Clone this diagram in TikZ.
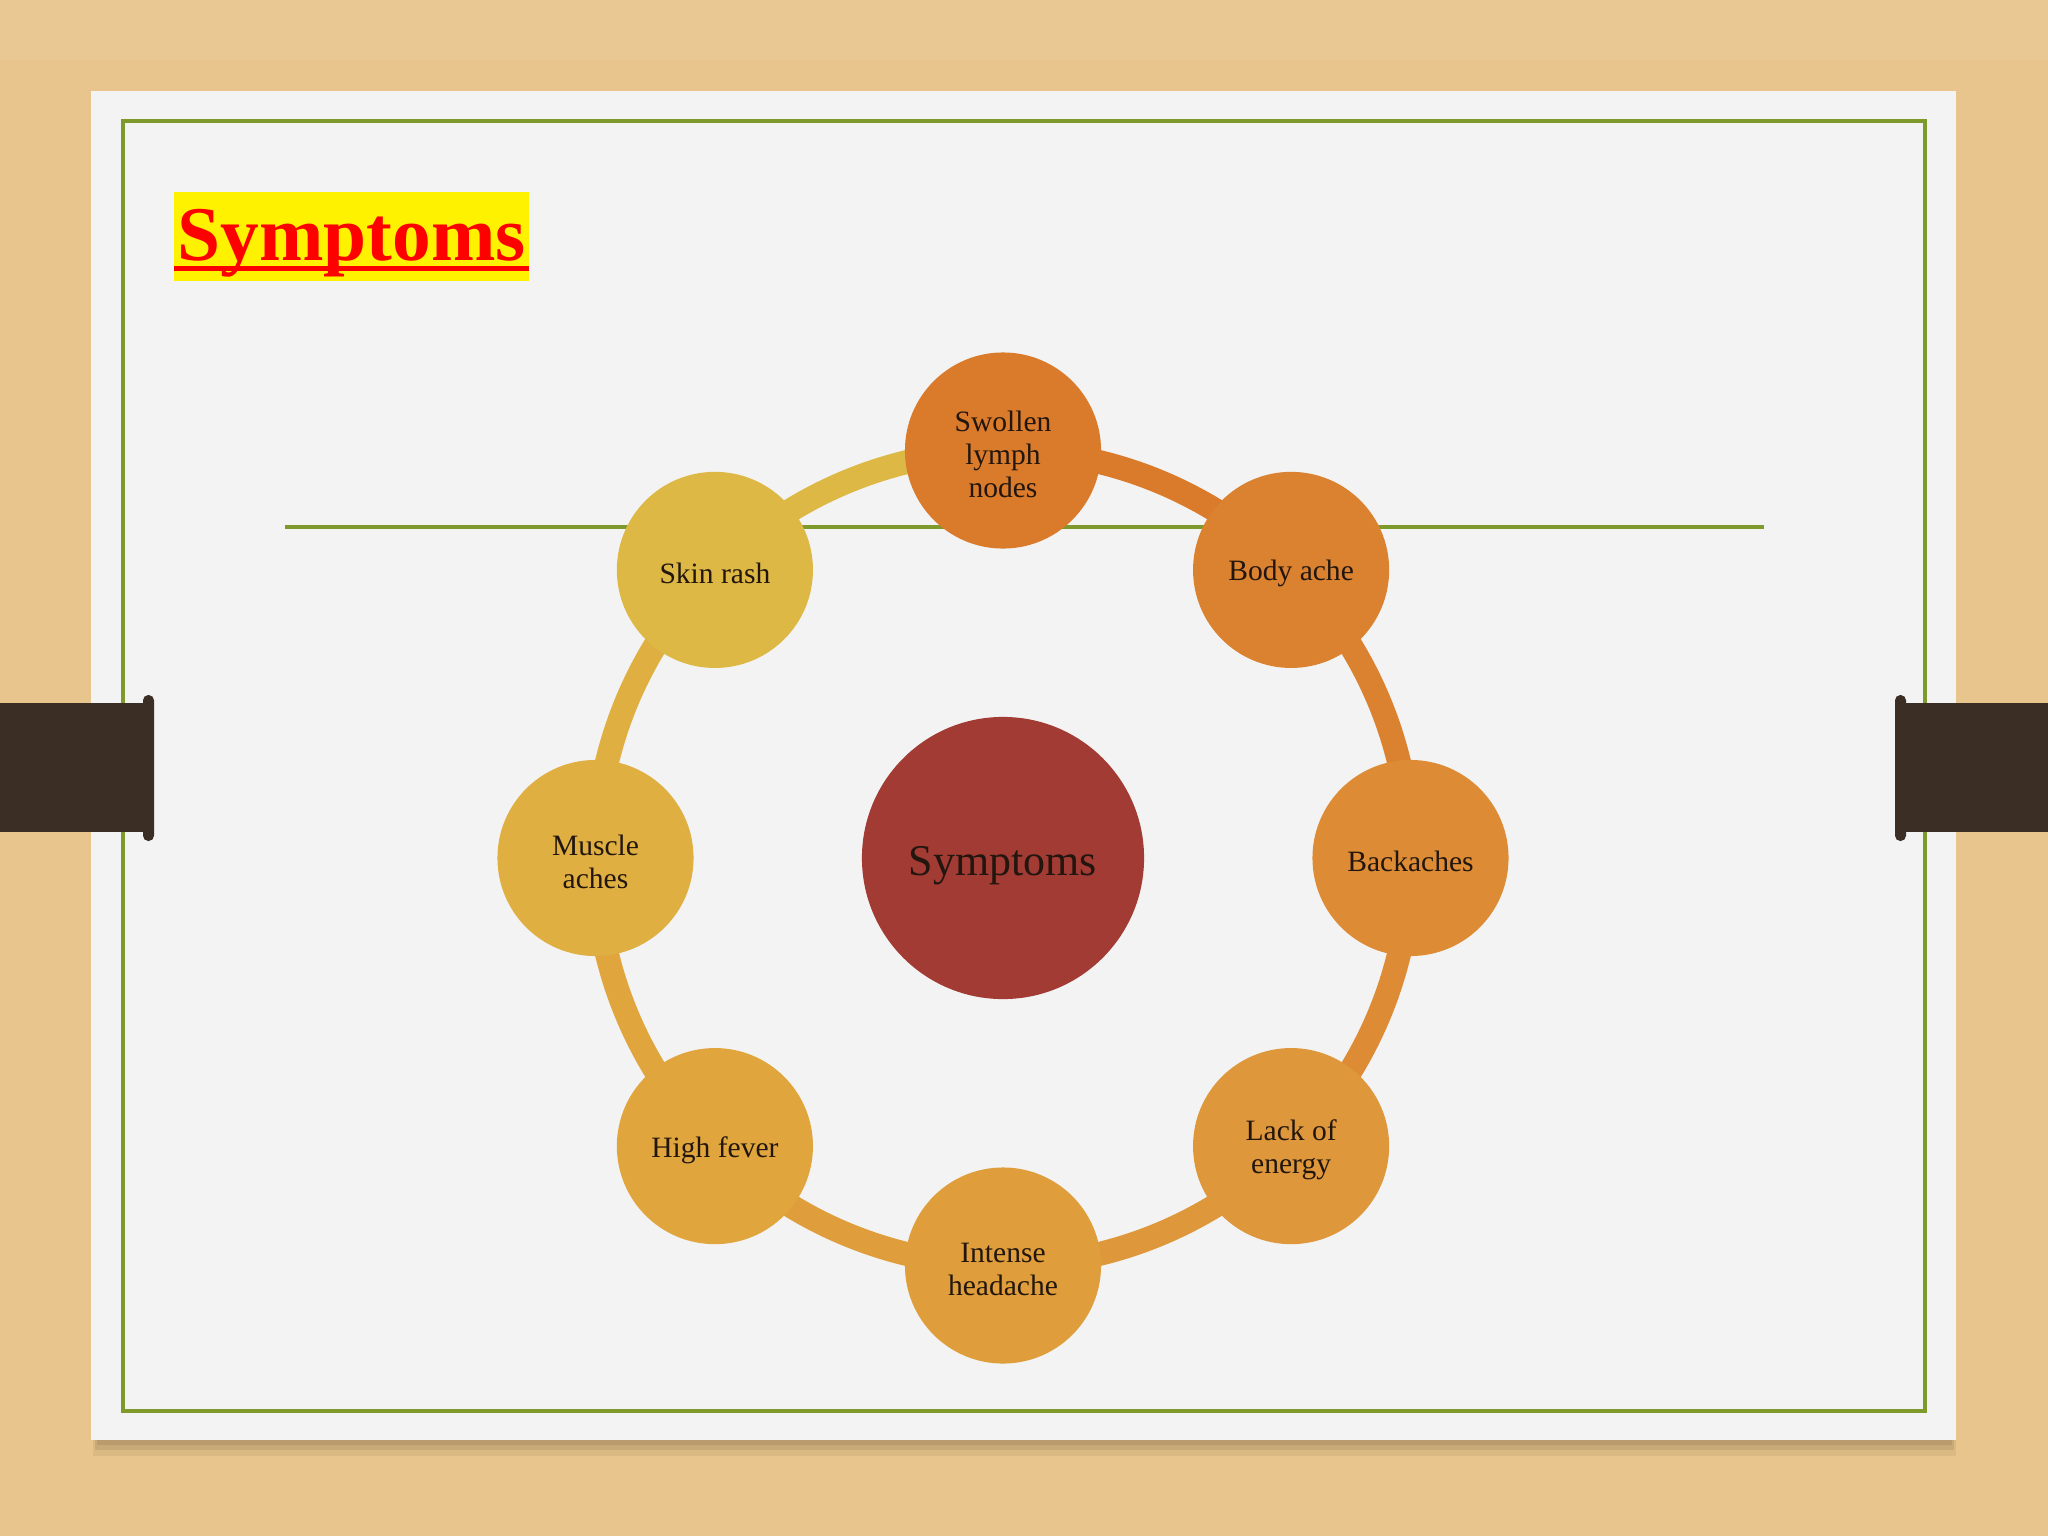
\documentclass[tikz,border=0pt]{standalone}
\usepackage{fontspec}
\setmainfont{Liberation Serif}
\definecolor{wood}{HTML}{E8C58C}
\definecolor{paper}{HTML}{F3F3F3}
\definecolor{frame}{HTML}{7E9A2A}
\definecolor{strap}{HTML}{3A2E25}
\definecolor{cA}{HTML}{DA7A2B}
\definecolor{cB}{HTML}{DB8230}
\definecolor{cC}{HTML}{DD8C35}
\definecolor{cD}{HTML}{DE973A}
\definecolor{cE}{HTML}{DF9E3B}
\definecolor{cF}{HTML}{E0A63D}
\definecolor{cG}{HTML}{DFAF41}
\definecolor{cH}{HTML}{DDB845}
\definecolor{core}{HTML}{A23B34}
\definecolor{ink}{HTML}{22160E}
\begin{document}
\begin{tikzpicture}[x=0.01cm,y=-0.01cm,
  bubble/.style={circle,minimum size=1.96cm,inner sep=0pt},
  ring/.style={line width=6.8pt}]
\useasboundingbox (0,0) rectangle (2048,1536);
% background
\fill[wood] (0,0) rectangle (2048,1536);
\fill[wood!94!white] (0,0) rectangle (2048,60);
% paper shadow
\fill[black,opacity=0.06] (93,100) rectangle (1956,1456);
\fill[black,opacity=0.08] (95,100) rectangle (1954,1450);
\fill[black,opacity=0.08] (97,100) rectangle (1952,1445);
\fill[paper] (91,91) rectangle (1956,1440);
% frame
\draw[frame,line width=1pt] (123,121) rectangle (1925,1411);
% straps
\fill[strap] (0,703) rectangle (152,832);
\fill[strap,rounded corners=1.5pt] (143,695) rectangle (154,841);
\fill[strap] (1897,703) rectangle (2048,832);
\fill[strap,rounded corners=1.5pt] (1895,695) rectangle (1906,841);
% horizontal line
\draw[frame,line width=0.9pt] (285,527) -- (1764,527);
% title
\fill[yellow] (174,192) rectangle (529,281);
\node[anchor=base,text=red,font=\fontsize{22pt}{24pt}\selectfont\bfseries] (title) at (351.5,260) {Symptoms};
\fill[red] (174,266) rectangle (529,271);
% ring node positions
\coordinate (p1) at (1003,450.5);
\coordinate (p2) at (1291.1,569.9);
\coordinate (p3) at (1410.5,858);
\coordinate (p4) at (1291.1,1146.1);
\coordinate (p5) at (1003,1265.5);
\coordinate (p6) at (714.9,1146.1);
\coordinate (p7) at (595.5,858);
\coordinate (p8) at (714.9,569.9);
% ring segments
\draw[ring,cA] (p1) arc[start angle=90,end angle=45,radius=4.075cm];
\draw[ring,cB] (p2) arc[start angle=45,end angle=0,radius=4.075cm];
\draw[ring,cC] (p3) arc[start angle=0,end angle=-45,radius=4.075cm];
\draw[ring,cD] (p4) arc[start angle=-45,end angle=-90,radius=4.075cm];
\draw[ring,cE] (p5) arc[start angle=-90,end angle=-135,radius=4.075cm];
\draw[ring,cF] (p6) arc[start angle=-135,end angle=-180,radius=4.075cm];
\draw[ring,cG] (p7) arc[start angle=180,end angle=135,radius=4.075cm];
\draw[ring,cH] (p8) arc[start angle=135,end angle=90,radius=4.075cm];
% nodes
\node[bubble,fill=cA] (n1) at (p1) {};
\node[bubble,fill=cB] (n2) at (p2) {};
\node[bubble,fill=cC] (n3) at (p3) {};
\node[bubble,fill=cD] (n4) at (p4) {};
\node[bubble,fill=cE] (n5) at (p5) {};
\node[bubble,fill=cF] (n6) at (p6) {};
\node[bubble,fill=cG] (n7) at (p7) {};
\node[bubble,fill=cH] (n8) at (p8) {};
\node[circle,fill=core,minimum size=2.82cm,inner sep=0pt] (c) at (1003,858) {};
\begin{scope}[every node/.style={align=center,text=ink,font=\fontsize{8.4pt}{9.4pt}\selectfont,yshift=-1.1pt}]
\node (t1) at (n1) {Swollen\\lymph\\nodes};
\node (t2) at (n2) {Body ache};
\node (t3) at (n3) {Backaches};
\node (t4) at (n4) {Lack of\\energy};
\node (t5) at (n5) {Intense\\headache};
\node (t6) at (n6) {High fever};
\node (t7) at (n7) {Muscle\\aches};
\node (t8) at (n8) {Skin rash};
\end{scope}
\node[text=ink,font=\fontsize{12.5pt}{14pt}\selectfont,yshift=-2.2pt] (tc) at (c) {Symptoms};
\end{tikzpicture}
\end{document}
